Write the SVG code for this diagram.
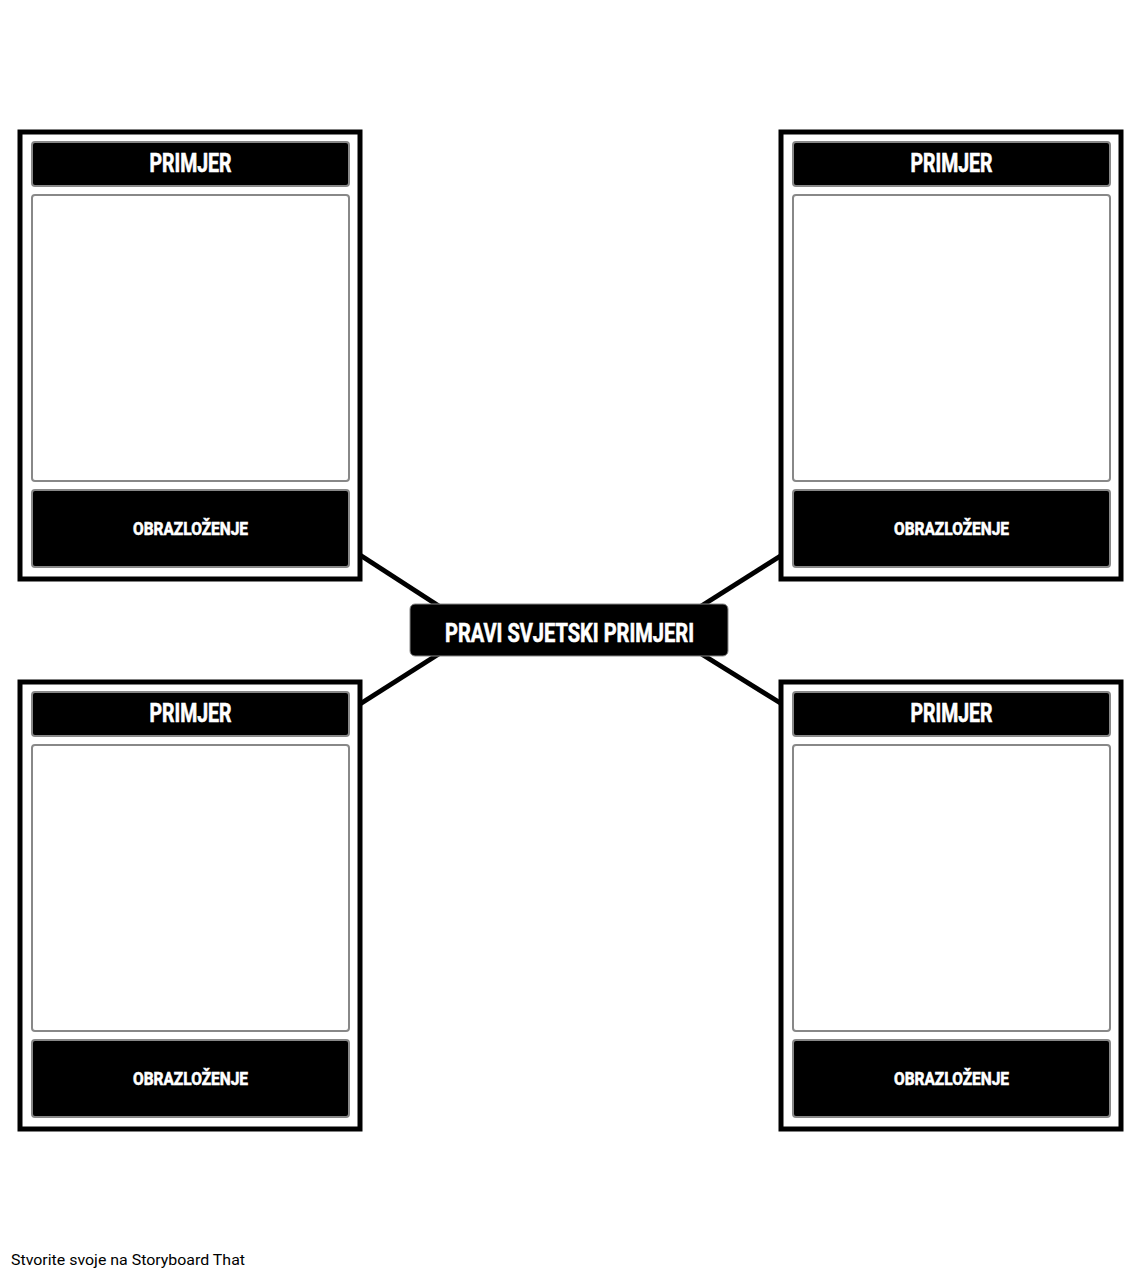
<svg xmlns="http://www.w3.org/2000/svg" width="1144" height="1279" viewBox="0 0 1144 1279">
<style>
.frame{fill:#fff;stroke:#000;stroke-width:5}
.bar{fill:#000;stroke:#888;stroke-width:2}
.box{fill:#fff;stroke:#888;stroke-width:2}
.t{font-family:"Roboto","Liberation Sans",sans-serif;font-weight:bold;fill:#fff;stroke:#fff;stroke-width:0.6;text-anchor:middle}
.h{font-size:25px}
.s{font-size:18px}
.conn{stroke:#000;stroke-width:5;fill:none}
.foot{font-family:"Roboto","Liberation Sans",sans-serif;font-size:15px;fill:#000}
</style>
<defs>
<g id="card">
<rect class="frame" x="0" y="0" width="340" height="447"/>
<rect class="bar" x="12" y="10" width="317" height="44" rx="3"/>
<text class="t h" x="170.5" y="39.5" textLength="82" lengthAdjust="spacingAndGlyphs">PRIMJER</text>
<rect class="box" x="12" y="63" width="317" height="286" rx="3"/>
<rect class="bar" x="12" y="358" width="317" height="77" rx="3"/>
<text class="t s" x="170.5" y="403" textLength="115" lengthAdjust="spacingAndGlyphs">OBRAZLOŽENJE</text>
</g>
</defs>
<rect width="1144" height="1279" fill="#fff"/>
<g id="connectors">
<line class="conn" x1="360" y1="555" x2="445" y2="610"/>
<line class="conn" x1="360" y1="704" x2="445" y2="650"/>
<line class="conn" x1="782" y1="555" x2="695" y2="610"/>
<line class="conn" x1="782" y1="704" x2="695" y2="650"/>
</g>
<g id="card-top-left"><use href="#card" x="20" y="132"/></g>
<g id="card-top-right"><use href="#card" x="781" y="132"/></g>
<g id="card-bottom-left"><use href="#card" x="20" y="682"/></g>
<g id="card-bottom-right"><use href="#card" x="781" y="682"/></g>
<g id="center">
<rect x="410" y="604" width="318" height="52" rx="5" fill="#000" stroke="#888" stroke-width="1"/>
<text class="t h" x="569.5" y="641.5" textLength="249" lengthAdjust="spacingAndGlyphs">PRAVI SVJETSKI PRIMJERI</text>
</g>
<text class="foot" x="11" y="1265" textLength="234" lengthAdjust="spacingAndGlyphs">Stvorite svoje na Storyboard That</text>
</svg>
